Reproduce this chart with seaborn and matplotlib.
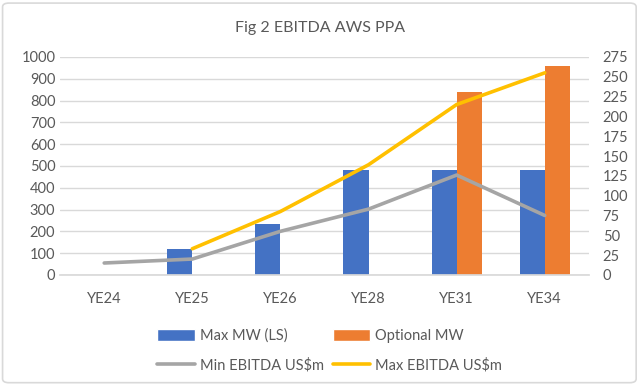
import matplotlib
matplotlib.use("Agg")
import matplotlib.pyplot as plt
import seaborn as sns
import pandas as pd
import numpy as np
from matplotlib.patches import Patch, FancyBboxPatch
from matplotlib.lines import Line2D

categories = ["YE24", "YE25", "YE26", "YE28", "YE31", "YE34"]
max_mw = [0, 120, 235, 480, 480, 480]
optional_mw = [0, 0, 0, 0, 840, 960]
min_ebitda = [15, 20, 55, 83, 126, 75]
max_ebitda = [np.nan, 33, 80, 139, 215, 255]
left_ticks = list(range(0, 1001, 100))
right_ticks = list(range(0, 276, 25))

sns.set_theme(style="white")
plt.rcParams["font.family"] = ["Lato", "DejaVu Sans"]
txt = "#595959"

fig = plt.figure(figsize=(6.4, 3.85), dpi=100)
ax = fig.add_axes([0.094, 0.286, 0.826, 0.566])

bars = pd.DataFrame({
    "cat": categories * 2,
    "val": max_mw + optional_mw,
    "series": ["Max MW (LS)"] * len(categories) + ["Optional MW"] * len(categories),
})
sns.barplot(data=bars, x="cat", y="val", hue="series", order=categories,
            palette=["#4472C4", "#ED7D31"], width=0.57, ax=ax, legend=False,
            saturation=1, zorder=2, linewidth=0)
ax.set_ylim(0, 1000)
ax.set_xlim(-0.5, 5.5)
ax.set_yticks(left_ticks)
ax.yaxis.grid(True, color="#D9D9D9", linewidth=1)
ax.set_axisbelow(True)
ax.set_xlabel("")
ax.set_ylabel("")
for s in ["top", "right", "left"]:
    ax.spines[s].set_visible(False)
ax.spines["bottom"].set_color("#D9D9D9")
ax.tick_params(axis="both", length=0, colors=txt, labelsize=10.5)
ax.tick_params(axis="x", pad=12)

ax2 = ax.twinx()
x = np.arange(len(categories))
sns.lineplot(x=x, y=min_ebitda, ax=ax2, color="#A5A5A5", linewidth=2.6)
sns.lineplot(x=x, y=max_ebitda, ax=ax2, color="#FFC000", linewidth=2.6)
ax2.set_ylim(0, 275)
ax2.set_yticks(right_ticks)
ax2.set_xlim(-0.5, 5.5)
for s in ["top", "right", "left", "bottom"]:
    ax2.spines[s].set_visible(False)
ax2.tick_params(axis="y", length=0, colors=txt, labelsize=10.5, pad=10)
ax2.grid(False)

fig.text(0.5, 0.928, "Fig 2 EBITDA AWS PPA", ha="center", va="center",
         fontsize=11.5, color=txt)

handles = [
    Patch(facecolor="#4472C4", label="Max MW (LS)"),
    Line2D([0], [0], color="#A5A5A5", lw=2.6, label="Min EBITDA US$m"),
    Patch(facecolor="#ED7D31", label="Optional MW"),
    Line2D([0], [0], color="#FFC000", lw=2.6, label="Max EBITDA US$m"),
]
leg = fig.legend(handles=handles, ncol=2, loc="center", bbox_to_anchor=(0.515, 0.09),
                 frameon=False, fontsize=10.5, labelcolor=txt, columnspacing=0.6,
                 handlelength=2.6, handleheight=0.9, handletextpad=0.3, labelspacing=1.0)

fig.patches.append(FancyBboxPatch((0.004, 0.006), 0.99, 0.986,
                                  boxstyle="round,pad=0,rounding_size=0.01",
                                  transform=fig.transFigure, fill=False,
                                  edgecolor="#D9D9D9", linewidth=1.2))

fig.savefig("out.png", dpi=100, facecolor="white")
